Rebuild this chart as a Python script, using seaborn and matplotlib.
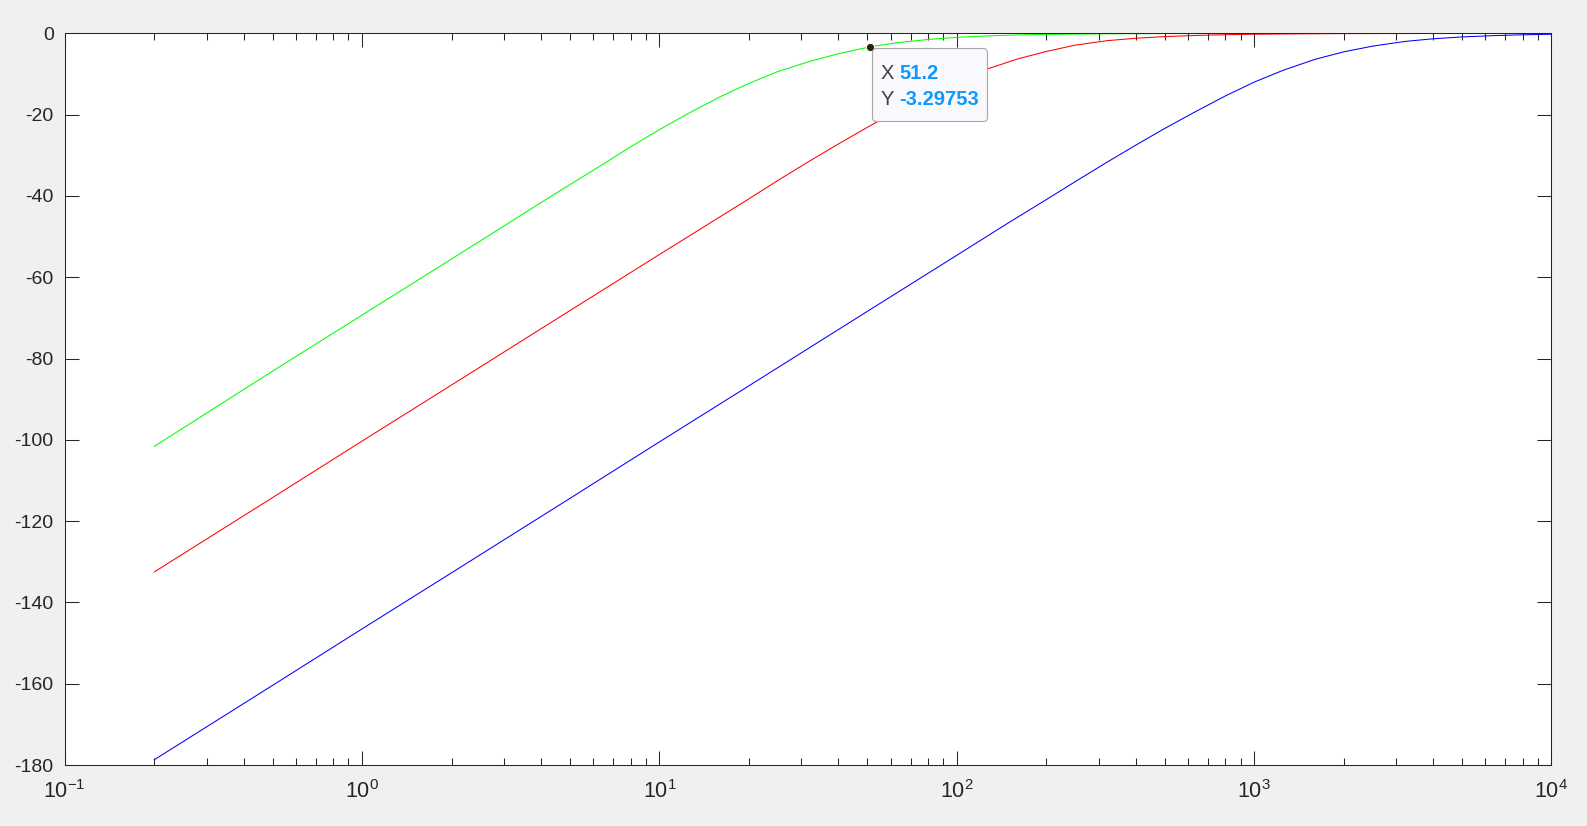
import numpy as np
import pandas as pd
import matplotlib
matplotlib.use("Agg")
import matplotlib.pyplot as plt
import seaborn as sns
from matplotlib.ticker import LogLocator
from matplotlib.offsetbox import TextArea, HPacker, VPacker, AnnotationBbox, DrawingArea

# -------------------- data --------------------
GREEN_F = [0.2, 0.5, 1, 2, 3, 4, 5, 6.3, 8, 10, 12.5, 16, 20, 25, 32, 40, 51.2,
           63, 80, 100, 125, 160, 200, 300, 500, 1000, 10000]
GREEN_DB = [-101.6, -83.1, -69.3, -55.5, -47.4, -41.6, -37.2, -32.7, -27.9, -23.7,
            -19.7, -15.6, -12.3, -9.4, -6.9, -5.0, -3.3, -2.3, -1.5, -0.98,
            -0.64, -0.39, -0.25, -0.11, -0.04, -0.01, 0.0]

RED_F = [0.2, 0.5, 1, 2, 5, 10, 20, 25, 32, 40, 51.2, 63, 80, 100, 125, 160,
         200, 250, 320, 400, 500, 630, 800, 1000, 1500, 2000, 5000, 10000]
RED_DB = [-132.5, -114.2, -100.3, -86.5, -68.2, -54.4, -40.7, -36.2, -31.4, -27.2,
          -22.7, -19.1, -15.1, -11.8, -8.9, -6.3, -4.45, -2.9, -1.8, -1.2,
          -0.8, -0.52, -0.33, -0.21, -0.1, -0.06, -0.01, 0.0]

BLUE_F = [0.2, 0.5, 1, 2, 5, 10, 20, 50, 100, 150, 200, 250, 320, 400, 500, 630,
          800, 1000, 1250, 1600, 2000, 2500, 3200, 4000, 5000, 6300, 8000, 10000]
BLUE_DB = [-178.7, -160.4, -146.5, -132.7, -114.4, -100.5, -86.7, -68.4, -54.6, -46.5,
           -40.9, -36.5, -31.7, -27.5, -23.4, -19.4, -15.4, -12.0, -9.1, -6.4,
           -4.55, -3.15, -2.0, -1.33, -0.88, -0.57, -0.35, -0.22]

CURVES = ["green", "red", "blue"]
COLORS = {"green": "#00ff00", "red": "#ff0000", "blue": "#0000ff"}

YTICKS = list(range(-180, 1, 20))

# data tip
TIP_X = 51.2
TIP_Y = -3.29753

# -------------------- style --------------------
sns.set_style("ticks")
plt.rcParams["font.family"] = ["Liberation Sans", "DejaVu Sans"]
plt.rcParams["mathtext.fontset"] = "custom"
plt.rcParams["mathtext.rm"] = "Liberation Sans"
plt.rcParams["mathtext.default"] = "regular"
plt.rcParams["axes.unicode_minus"] = False

ink = "#262626"

df = pd.concat([
    pd.DataFrame({"freq": GREEN_F, "db": GREEN_DB, "curve": "green"}),
    pd.DataFrame({"freq": RED_F, "db": RED_DB, "curve": "red"}),
    pd.DataFrame({"freq": BLUE_F, "db": BLUE_DB, "curve": "blue"}),
], ignore_index=True)

fig = plt.figure(figsize=(15.87, 8.26), dpi=100, facecolor="#f0f0f0")
ax = fig.add_axes([0.0408, 0.0738, 0.9368, 0.8858])
ax.set_facecolor("white")

sns.lineplot(data=df, x="freq", y="db", hue="curve", hue_order=CURVES,
             palette=COLORS, estimator=None, sort=False, linewidth=0.75,
             legend=False, ax=ax)

ax.set_xscale("log")
ax.set_xlim(0.1, 1e4)
ax.set_ylim(-180, 0)
ax.set_yticks(YTICKS)
ax.xaxis.set_minor_locator(LogLocator(base=10, subs=np.arange(2, 10), numticks=20))
ax.set_xlabel("")
ax.set_ylabel("")

ax.tick_params(which="both", direction="in", top=True, right=True,
               color=ink, width=0.75, labelcolor=ink, labelsize=14)
ax.tick_params(which="major", length=9.8)
ax.tick_params(which="minor", length=4.8)
ax.tick_params(axis="x", which="both", pad=11, labelsize=15.5)
ax.tick_params(axis="y", pad=8)
for sp in ax.spines.values():
    sp.set_visible(True)
    sp.set_color(ink)
    sp.set_linewidth(0.75)

# -------------------- data tip --------------------
ax.plot([TIP_X], [TIP_Y], "o", ms=6, mfc="#222222", mec="#ffffcc", mew=0.8,
        zorder=6, clip_on=False)

lab = dict(color="#404040", size=14.5)
val = dict(color="#0d99ff", size=14.5, weight="bold")
row_x = HPacker(children=[TextArea("X", textprops=lab),
                          TextArea(f"{TIP_X:g}", textprops=val)],
                sep=4, pad=0, align="baseline")
row_y = HPacker(children=[TextArea("Y", textprops=lab),
                          TextArea(f"{TIP_Y:g}", textprops=val)],
                sep=4, pad=0, align="baseline")
rows = VPacker(children=[row_x, row_y], sep=5.5, pad=0, align="left")
tip = VPacker(children=[DrawingArea(1, 5), rows, DrawingArea(1, 2.2)],
              sep=0, pad=0, align="left")
ab = AnnotationBbox(tip, (TIP_X, TIP_Y), xybox=(7.2, -7.2), xycoords="data",
                    boxcoords="offset points", box_alignment=(0, 1),
                    frameon=True, annotation_clip=False, zorder=7,
                    bboxprops=dict(boxstyle="round,pad=0.6,rounding_size=0.3",
                                   fc="#f8f8fd", ec="#a8a8a8", lw=0.8))
ax.add_artist(ab)

fig.savefig("out.png", dpi=100, facecolor=fig.get_facecolor())
